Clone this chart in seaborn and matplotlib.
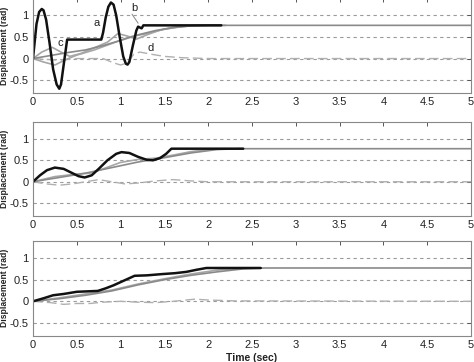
import seaborn as sns
import matplotlib.pyplot as plt
import pandas as pd

# panel 1 (top)
p1_a_t = [0, 0.02, 0.04, 0.07, 0.1, 0.12, 0.15, 0.19, 0.23, 0.27, 0.3, 0.32, 0.35, 0.39, 0.6, 0.78,
          0.8, 0.83, 0.86, 0.89, 0.92, 0.95, 0.99, 1.03, 1.06, 1.08, 1.1, 1.14, 1.18, 1.2, 1.22, 1.24,
          1.26, 1.6, 2.15]
p1_a_y = [0, 0.4, 0.8, 1.08, 1.15, 1.12, 0.9, 0.35, -0.25, -0.6, -0.70, -0.6, -0.15, 0.44, 0.44, 0.44,
          0.6, 0.95, 1.2, 1.3, 1.25, 1.0, 0.5, 0.05, -0.12, -0.14, -0.08, 0.3, 0.65, 0.74, 0.72, 0.70,
          0.77, 0.77, 0.77]
p1_b_t = [0, 0.2, 0.4, 0.6, 0.8, 1.0, 1.2, 1.4, 1.6, 1.8, 2.0, 2.2, 5]
p1_b_y = [0, 0.07, 0.14, 0.2, 0.3, 0.42, 0.55, 0.65, 0.72, 0.76, 0.77, 0.77, 0.77]
p1_c_t = [0, 0.1, 0.22, 0.32, 0.42, 0.55, 0.7, 0.85, 0.97, 1.08, 1.18, 1.3, 1.45, 1.6, 1.8, 2.0, 2.2]
p1_c_y = [0, 0.15, 0.26, 0.15, 0.05, 0.12, 0.25, 0.38, 0.58, 0.52, 0.45, 0.55, 0.66, 0.72, 0.76, 0.77, 0.77]
p1_e_t = [0, 0.12, 0.25, 0.38, 0.5, 0.7, 0.9, 1.1, 1.3, 1.5, 1.7, 1.9]
p1_e_y = [0, -0.08, -0.15, -0.02, 0.08, 0.2, 0.35, 0.5, 0.58, 0.68, 0.74, 0.77]
p1_d_t = [0, 0.3, 0.5, 0.8, 0.92, 1.0, 1.08, 1.15, 1.22, 1.35, 1.5, 1.7, 2.0, 5]
p1_d_y = [0, -0.04, 0, 0, -0.1, -0.15, -0.1, 0.1, 0.15, 0.1, 0.05, 0.02, 0, 0]

# panel 2 (middle)
p2_a_t = [0, 0.08, 0.16, 0.25, 0.35, 0.45, 0.52, 0.59, 0.67, 0.75, 0.85, 0.95, 1.01, 1.1, 1.2, 1.3,
          1.37, 1.45, 1.52, 1.58, 2.4]
p2_a_y = [0, 0.15, 0.27, 0.33, 0.3, 0.2, 0.13, 0.10, 0.15, 0.3, 0.5, 0.65, 0.69, 0.67, 0.58, 0.51,
          0.50, 0.55, 0.65, 0.77, 0.77]
p2_b_t = [0, 0.3, 0.6, 0.9, 1.2, 1.5, 1.8, 2.1, 2.35, 5]
p2_b_y = [0, 0.1, 0.2, 0.33, 0.46, 0.56, 0.67, 0.75, 0.77, 0.77]
p2_c_t = [0, 0.25, 0.5, 0.65, 0.8, 1.0, 1.2, 1.4, 1.6, 1.8, 2.0, 2.2]
p2_c_y = [0, 0.12, 0.18, 0.2, 0.3, 0.45, 0.52, 0.55, 0.62, 0.7, 0.75, 0.77]
p2_d_t = [0, 0.15, 0.3, 0.45, 0.6, 0.75, 0.9, 1.05, 1.2, 1.4, 1.6, 1.8, 2.0, 5]
p2_d_y = [0, -0.05, -0.08, -0.05, 0.0, 0.05, 0.0, -0.05, -0.03, 0.02, 0.05, 0.02, 0, 0]

# panel 3 (bottom)
p3_a_t = [0, 0.12, 0.23, 0.35, 0.5, 0.74, 0.83, 0.92, 1.04, 1.16, 1.3, 1.48, 1.62, 1.75, 1.87, 1.98, 2.6]
p3_a_y = [0, 0.07, 0.14, 0.17, 0.22, 0.24, 0.30, 0.37, 0.48, 0.59, 0.60, 0.63, 0.65, 0.68, 0.73, 0.77, 0.77]
p3_b_t = [0, 0.3, 0.6, 0.9, 1.2, 1.5, 1.8, 2.1, 2.4, 2.65, 5]
p3_b_y = [0, 0.06, 0.14, 0.24, 0.38, 0.5, 0.6, 0.68, 0.75, 0.77, 0.77]
p3_c_t = [0, 0.3, 0.6, 0.9, 1.2, 1.5, 1.8, 2.1, 2.4]
p3_c_y = [0, 0.08, 0.17, 0.26, 0.4, 0.52, 0.63, 0.72, 0.77]
p3_d_t = [0, 0.2, 0.35, 0.5, 0.65, 0.8, 1.0, 1.2, 1.4, 1.6, 1.85, 2.0, 2.3, 5]
p3_d_y = [0, -0.03, -0.07, -0.05, -0.05, -0.02, 0, -0.02, -0.03, 0, 0.05, 0.03, 0.01, 0]

x_ticks = [0, 0.5, 1, 1.5, 2, 2.5, 3, 3.5, 4, 4.5, 5]
x_labels = ["0", "0.5", "1", "1.5", "2", "2.5", "3", "3.5", "4", "4.5", "5"]
y_ticks = [-0.5, 0, 0.5, 1]
y_labels = ["-0.5", "0", "0.5", "1"]

panels = [
    [(p1_d_t, p1_d_y, "d"), (p1_e_t, p1_e_y, "c"), (p1_c_t, p1_c_y, "c"), (p1_b_t, p1_b_y, "b"), (p1_a_t, p1_a_y, "a")],
    [(p2_d_t, p2_d_y, "d"), (p2_c_t, p2_c_y, "c"), (p2_b_t, p2_b_y, "b"), (p2_a_t, p2_a_y, "a")],
    [(p3_d_t, p3_d_y, "d"), (p3_c_t, p3_c_y, "c"), (p3_b_t, p3_b_y, "b"), (p3_a_t, p3_a_y, "a")],
]

styles = {
    "a": dict(color="#111111", lw=1.8, ls="-"),
    "b": dict(color="#8a8a8a", lw=1.2, ls="-"),
    "c": dict(color="#a6a6a6", lw=1.2, ls="-"),
    "d": dict(color="#b0b0b0", lw=1.0, ls=(0, (7, 3))),
}

sns.set_theme(style="white")
plt.rcParams["font.family"] = ["Liberation Sans", "DejaVu Sans"]
plt.rcParams["xtick.direction"] = "in"
plt.rcParams["ytick.direction"] = "in"

fig = plt.figure(figsize=(4.74, 3.62), dpi=100)
boxes = [(0.0696, 0.743, 0.924, 0.262), (0.0696, 0.403, 0.924, 0.261), (0.0696, 0.072, 0.924, 0.263)]

axes = []
for box, series in zip(boxes, panels):
    ax = fig.add_axes(box)
    for yt in y_ticks:
        ax.axhline(yt, color="#9a9a9a", lw=0.8, ls=(0, (3, 3)), zorder=0)
    for t, y, key in series:
        df = pd.DataFrame({"t": t, "y": y})
        st = styles[key]
        sns.lineplot(data=df, x="t", y="y", ax=ax, color=st["color"], lw=st["lw"],
                     linestyle=st["ls"], sort=False, estimator=None)
    ax.set_xlim(0, 5)
    ax.set_ylim(-0.8, 1.4)
    ax.set_xticks(x_ticks)
    ax.set_xticklabels(x_labels)
    ax.set_yticks(y_ticks)
    ax.set_yticklabels(y_labels)
    ax.tick_params(axis="both", labelsize=8, length=3, width=0.7, color="#555555",
                   top=True, right=True, pad=3, labelcolor="#222222")
    for sp in ax.spines.values():
        sp.set_color("#888888")
        sp.set_linewidth(0.8)
    ax.set_xlabel("")
    ax.set_ylabel("Displacement (rad)", fontsize=6.2, fontweight="bold", color="#222222")
    ax.yaxis.set_label_coords(-0.055, 0.5)
    axes.append(ax)

# curve labels in the top panel
ax0 = axes[0]
ax0.text(0.73, 0.82, "a", fontsize=8, ha="center", va="center", color="#222222")
ax0.text(1.16, 1.17, "b", fontsize=8, ha="center", va="center", color="#222222")
ax0.plot([1.13, 1.20], [1.03, 0.82], color="#888888", lw=0.7)
ax0.text(0.31, 0.37, "c", fontsize=8, ha="center", va="center", color="#222222")
ax0.text(1.34, 0.25, "d", fontsize=8, ha="center", va="center", color="#222222")

axes[2].set_xlabel("Time (sec)", fontsize=7.5, fontweight="bold", color="#222222", labelpad=2)

fig.savefig("out.png", dpi=100)
